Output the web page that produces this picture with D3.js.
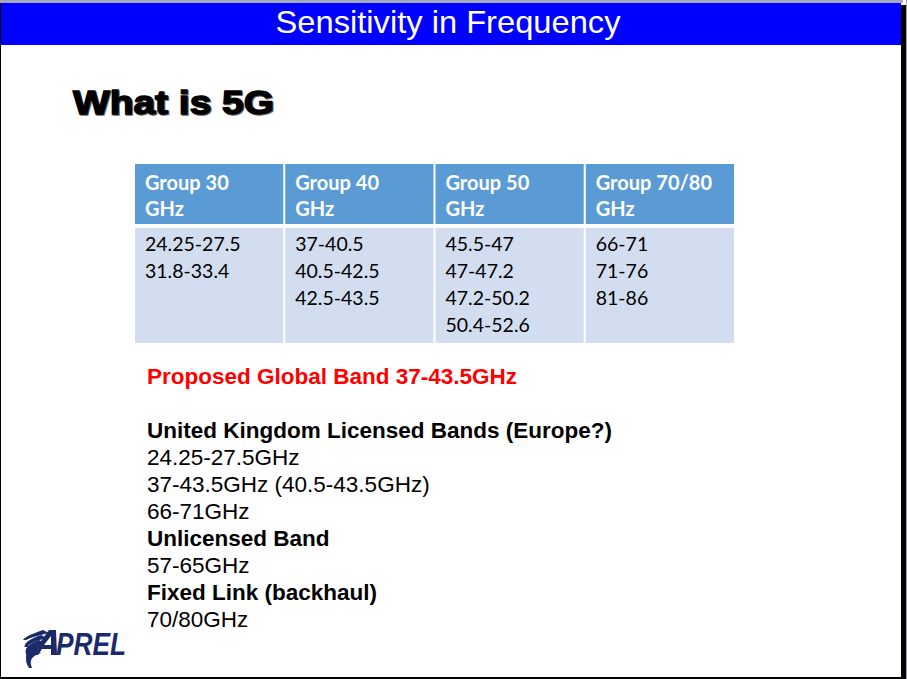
<!DOCTYPE html>
<html>
<head>
<meta charset="utf-8">
<script src="https://cdn.jsdelivr.net/npm/d3@7"></script>
<style>
  body { margin: 0; background: #fff; }
  svg { display: block; }
</style>
</head>
<body>
<script>
// slide content
var slideTitle = "Sensitivity in Frequency";
var heading = "What is 5G";
var groupNames = ["Group 30", "Group 40", "Group 50", "Group 70/80"];
var groupUnits = ["GHz", "GHz", "GHz", "GHz"];
var groupBands = [
    ["24.25-27.5", "31.8-33.4"],
    ["37-40.5", "40.5-42.5", "42.5-43.5"],
    ["45.5-47", "47-47.2", "47.2-50.2", "50.4-52.6"],
    ["66-71", "71-76", "81-86"]
];
var proposed = "Proposed Global Band 37-43.5GHz";
var sectionTitles = ["United Kingdom Licensed Bands (Europe?)", "Unlicensed Band", "Fixed Link (backhaul)"];
var sectionItems = [
    ["24.25-27.5GHz", "37-43.5GHz (40.5-43.5GHz)", "66-71GHz"],
    ["57-65GHz"],
    ["70/80GHz"]
];

var W = 907, H = 679;
var svg = d3.select("body").append("svg").attr("width", W).attr("height", H);

// frame: grey top edge, black shadow right and bottom
svg.append("rect").attr("x", 0).attr("y", 0).attr("width", W).attr("height", H).attr("fill", "#fff");
svg.append("rect").attr("x", 0).attr("y", 0).attr("width", 903).attr("height", 3).attr("fill", "#a3a8bd");
svg.append("rect").attr("x", 901).attr("y", 5).attr("width", 5).attr("height", 674).attr("fill", "#000");
svg.append("rect").attr("x", 906).attr("y", 0).attr("width", 1).attr("height", H).attr("fill", "#a3a8bd");
svg.append("rect").attr("x", 0).attr("y", 677).attr("width", 906).attr("height", 2).attr("fill", "#000");
svg.append("rect").attr("x", 0).attr("y", 3).attr("width", 1).attr("height", 676).attr("fill", "#000");

// blue title bar
svg.append("rect").attr("x", 1).attr("y", 3).attr("width", 900).attr("height", 42).attr("fill", "#0000ff");
svg.append("text")
    .attr("x", 448).attr("y", 33)
    .attr("text-anchor", "middle")
    .attr("font-family", "'Liberation Sans Narrow', 'Liberation Sans', Arial, sans-serif")
    .attr("font-size", 32)
    .attr("textLength", 345).attr("lengthAdjust", "spacingAndGlyphs")
    .attr("fill", "#fff")
    .text(slideTitle);

// heading with a thin shadow
[[1, "#666"], [0, "#000"]].forEach(function(s){
    svg.append("text")
        .attr("x", 73 + s[0]).attr("y", 114 + s[0])
        .attr("font-family", "'Liberation Sans', Arial, sans-serif")
        .attr("font-weight", "bold")
        .attr("font-size", 33)
        .attr("stroke", s[1]).attr("stroke-width", 1.4)
        .attr("textLength", 201).attr("lengthAdjust", "spacingAndGlyphs")
        .attr("fill", s[1])
        .text(heading);
});

// table
var col = d3.scaleBand().domain(d3.range(groupNames.length)).range([135, 736]);
var headTop = 164, headBottom = 224, bodyTop = 228, bodyBottom = 343;
var bodyLine = d3.scaleLinear().domain([0, 1]).range([251, 278]);
var cellFont = "Lato, 'Open Sans', sans-serif";

var cols = svg.selectAll("g.col").data(groupNames).enter().append("g").attr("class", "col");

cols.append("rect")
    .attr("x", function(d, i){ return col(i); })
    .attr("y", headTop)
    .attr("width", col.bandwidth() - 2)
    .attr("height", headBottom - headTop)
    .attr("fill", "#5b9bd5");

cols.append("rect")
    .attr("x", function(d, i){ return col(i); })
    .attr("y", bodyTop)
    .attr("width", col.bandwidth() - 2)
    .attr("height", bodyBottom - bodyTop)
    .attr("fill", "#d2deef");

cols.append("text")
    .attr("x", function(d, i){ return col(i) + 10; })
    .attr("y", 190)
    .attr("font-family", cellFont)
    .attr("font-weight", "bold")
    .attr("font-size", 20)
    .attr("fill", "#fff")
    .text(function(d){ return d; });

cols.append("text")
    .attr("x", function(d, i){ return col(i) + 10; })
    .attr("y", 216)
    .attr("font-family", cellFont)
    .attr("font-weight", "bold")
    .attr("font-size", 20)
    .attr("fill", "#fff")
    .text(function(d, i){ return groupUnits[i]; });

cols.each(function(d, i){
    d3.select(this).selectAll("text.band").data(groupBands[i]).enter().append("text")
        .attr("class", "band")
        .attr("x", col(i) + 10)
        .attr("y", function(b, j){ return bodyLine(j); })
        .attr("font-family", cellFont)
        .attr("font-size", 19.5)
        .attr("fill", "#000")
        .text(function(b){ return b; });
});

// notes below the table
var noteLine = d3.scaleLinear().domain([0, 1]).range([384, 411]);
var notes = [{t: proposed, kind: "red"}, {t: "", kind: "blank"}];
sectionTitles.forEach(function(s, i){
    notes.push({t: s, kind: "bold"});
    sectionItems[i].forEach(function(it){ notes.push({t: it, kind: "plain"}); });
});

svg.selectAll("text.note").data(notes).enter().append("text")
    .attr("class", "note")
    .attr("x", 147)
    .attr("y", function(d, i){ return noteLine(i); })
    .attr("font-family", "'Liberation Sans', Arial, sans-serif")
    .attr("font-size", 22.5)
    .attr("font-weight", function(d){ return d.kind === "plain" ? "normal" : "bold"; })
    .attr("fill", function(d){ return d.kind === "red" ? "#ff0000" : "#000"; })
    .text(function(d){ return d.t; });

// APREL logo
var logo = svg.append("g").attr("transform", "translate(23,630)");
var navy = "#1b2a6b";
[0, 5, 10, 15, 20].forEach(function(o, k){
    logo.append("path")
        .attr("d", "M" + (20 - k * 2) + "," + o + " Q" + (2 - k) + "," + (o + 6) + " " + (k * 1.5) + "," + (o + 10 + k * 2)
            + " L" + (k * 1.5 + 3) + "," + (o + 10 + k * 2) + " Q" + (8 - k) + "," + (o + 7) + " " + (26 - k * 2) + "," + (o + 3) + "Z")
        .attr("fill", navy);
});
logo.append("path")
    .attr("d", "M8,25 L26,0 L33,0 L34,25 L28,25 L28,19 L19,19 L15,25 Z M21,15 L28,15 L28,6 Z")
    .attr("fill", navy).attr("fill-rule", "evenodd");
logo.append("text")
    .attr("x", 33).attr("y", 25)
    .attr("font-family", "'Liberation Sans', Arial, sans-serif")
    .attr("font-weight", "bold")
    .attr("font-style", "italic")
    .attr("font-size", 32)
    .attr("textLength", 70).attr("lengthAdjust", "spacingAndGlyphs")
    .attr("fill", navy)
    .text("PREL");
</script>
</body>
</html>
